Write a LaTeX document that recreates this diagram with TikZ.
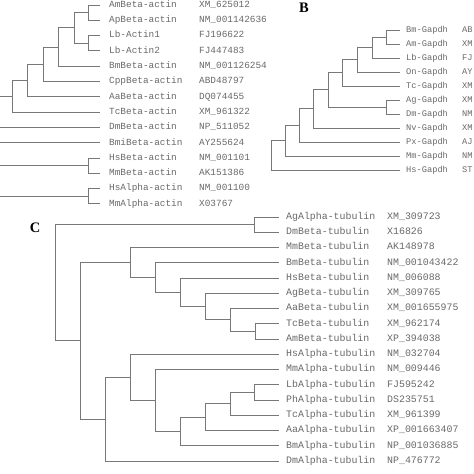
\documentclass[tikz,border=0pt]{standalone}
\usepackage{fontspec}
\setmonofont{Liberation Mono}
\newfontfamily\panelfont{Liberation Serif}
\usetikzlibrary{positioning}

\definecolor{branchgray}{RGB}{120,120,120}
\definecolor{textgray}{RGB}{105,105,105}

\begin{document}
\begin{tikzpicture}[
    x=1pt, y=-1pt,
    branch/.style={draw=branchgray, line width=1pt},
    leafA/.style={anchor=west, inner xsep=9pt, inner ysep=0pt, text height=1.55ex, text depth=0.45ex, text=textgray, font=\ttfamily\fontsize{9.4}{10}\selectfont},
    accA/.style={anchor=west, inner sep=0pt, text height=1.55ex, text depth=0.45ex, text=textgray, font=\ttfamily\fontsize{9.4}{10}\selectfont},
    leafB/.style={leafA, inner xsep=6pt, font=\ttfamily\fontsize{8.7}{10}\selectfont},
    accB/.style={accA, font=\ttfamily\fontsize{8.7}{10}\selectfont},
    leafC/.style={leafA, inner xsep=7pt, font=\ttfamily\fontsize{9.9}{11}\selectfont},
    accC/.style={accA, font=\ttfamily\fontsize{9.9}{11}\selectfont},
    panel/.style={font=\panelfont\bfseries\fontsize{14.5}{16}\selectfont, inner sep=0pt}
]
\useasboundingbox (0,0) rectangle (474,474);

% Panel A: actin leaves
\node[leafA] (a1) at (100,5) {AmBeta-actin};
\node[leafA] (a2) at (100,20.3) {ApBeta-actin};
\node[leafA] (a3) at (100,35.6) {Lb-Actin1};
\node[leafA] (a4) at (100,50.9) {Lb-Actin2};
\node[leafA] (a5) at (100,66.2) {BmBeta-actin};
\node[leafA] (a6) at (100,81.5) {CppBeta-actin};
\node[leafA] (a7) at (100,96.8) {AaBeta-actin};
\node[leafA] (a8) at (100,112.1) {TcBeta-actin};
\node[leafA] (a9) at (100,127.4) {DmBeta-actin};
\node[leafA] (a10) at (100,142.7) {BmiBeta-actin};
\node[leafA] (a11) at (100,158) {HsBeta-actin};
\node[leafA] (a12) at (100,173.3) {MmBeta-actin};
\node[leafA] (a13) at (100,188.6) {HsAlpha-actin};
\node[leafA] (a14) at (100,203.9) {MmAlpha-actin};

% Panel A: accession numbers
\node[accA] at (199,5) {XM\_625012};
\node[accA] at (199,20.3) {NM\_001142636};
\node[accA] at (199,35.6) {FJ196622};
\node[accA] at (199,50.9) {FJ447483};
\node[accA] at (199,66.2) {NM\_001126254};
\node[accA] at (199,81.5) {ABD48797};
\node[accA] at (199,96.8) {DQ074455};
\node[accA] at (199,112.1) {XM\_961322};
\node[accA] at (199,127.4) {NP\_511052};
\node[accA] at (199,142.7) {AY255624};
\node[accA] at (199,158) {NM\_001101};
\node[accA] at (199,173.3) {AK151386};
\node[accA] at (199,188.6) {NM\_001100};
\node[accA] at (199,203.9) {X03767};

% Panel A: inner nodes
\coordinate (ja1) at (88,12.65);
\coordinate (ja2) at (88,43.25);
\coordinate (ja3) at (74,27.95);
\coordinate (ja4) at (58,47.1);
\coordinate (ja5) at (43,64.3);
\coordinate (ja6) at (27,80.55);
\coordinate (ja7) at (12,96.3);
\coordinate (ja8) at (88,165.65);
\coordinate (ja9) at (88,196.25);

% Panel A: cut-off stems at the left edge
\coordinate (sa1) at (0,96.3);
\coordinate (sa2) at (0,127.4);
\coordinate (sa3) at (0,142.7);
\coordinate (sa4) at (0,165.65);
\coordinate (sa5) at (0,196.25);

% Panel A: branches
\draw[branch] (ja1) |- (a1);
\draw[branch] (ja1) |- (a2);
\draw[branch] (ja2) |- (a3);
\draw[branch] (ja2) |- (a4);
\draw[branch] (ja3) |- (ja1);
\draw[branch] (ja3) |- (ja2);
\draw[branch] (ja4) |- (ja3);
\draw[branch] (ja4) |- (a5);
\draw[branch] (ja5) |- (ja4);
\draw[branch] (ja5) |- (a6);
\draw[branch] (ja6) |- (ja5);
\draw[branch] (ja6) |- (a7);
\draw[branch] (ja7) |- (ja6);
\draw[branch] (ja7) |- (a8);
\draw[branch] (ja8) |- (a11);
\draw[branch] (ja8) |- (a12);
\draw[branch] (ja9) |- (a13);
\draw[branch] (ja9) |- (a14);
\draw[branch] (sa1) -- (ja7);
\draw[branch] (sa2) -- (a9);
\draw[branch] (sa3) -- (a10);
\draw[branch] (sa4) -- (ja8);
\draw[branch] (sa5) -- (ja9);

% Panel B: Gapdh leaves
\node[panel] (labB) at (304,8) {B};
\node[leafB] (b1) at (400,30) {Bm-Gapdh};
\node[leafB] (b2) at (400,44) {Am-Gapdh};
\node[leafB] (b3) at (400,58) {Lb-Gapdh};
\node[leafB] (b4) at (400,72) {On-Gapdh};
\node[leafB] (b5) at (400,86) {Tc-Gapdh};
\node[leafB] (b6) at (400,100) {Ag-Gapdh};
\node[leafB] (b7) at (400,114) {Dm-Gapdh};
\node[leafB] (b8) at (400,128) {Nv-Gapdh};
\node[leafB] (b9) at (400,142) {Px-Gapdh};
\node[leafB] (b10) at (400,156) {Mm-Gapdh};
\node[leafB] (b11) at (400,170) {Hs-Gapdh};

% Panel B: accession numbers (cut by the right edge)
\node[accB] at (462,30) {AB};
\node[accB] at (462,44) {XM};
\node[accB] at (462,58) {FJ};
\node[accB] at (462,72) {AY};
\node[accB] at (462,86) {XM};
\node[accB] at (462,100) {XM};
\node[accB] at (462,114) {NM};
\node[accB] at (462,128) {XM};
\node[accB] at (462,142) {AJ};
\node[accB] at (462,156) {NM};
\node[accB] at (462,170) {ST};

% Panel B: inner nodes
\coordinate (jb1) at (386,37);
\coordinate (jb2) at (372,47.5);
\coordinate (jb3) at (357,59.75);
\coordinate (jb4) at (342,72.9);
\coordinate (jb5) at (386,107);
\coordinate (jb6) at (328,89.95);
\coordinate (jb7) at (313,108.97);
\coordinate (jb8) at (299,125.5);
\coordinate (jb9) at (285,140.7);
\coordinate (jb10) at (271,155.4);

% Panel B: branches
\draw[branch] (jb1) |- (b1);
\draw[branch] (jb1) |- (b2);
\draw[branch] (jb2) |- (jb1);
\draw[branch] (jb2) |- (b3);
\draw[branch] (jb3) |- (jb2);
\draw[branch] (jb3) |- (b4);
\draw[branch] (jb4) |- (jb3);
\draw[branch] (jb4) |- (b5);
\draw[branch] (jb5) |- (b6);
\draw[branch] (jb5) |- (b7);
\draw[branch] (jb6) |- (jb4);
\draw[branch] (jb6) |- (jb5);
\draw[branch] (jb7) |- (jb6);
\draw[branch] (jb7) |- (b8);
\draw[branch] (jb8) |- (jb7);
\draw[branch] (jb8) |- (b9);
\draw[branch] (jb9) |- (jb8);
\draw[branch] (jb9) |- (b10);
\draw[branch] (jb10) |- (jb9);
\draw[branch] (jb10) |- (b11);

% Panel C: tubulin leaves
\node[panel] (labC) at (35,228) {C};
\node[leafC] (c1) at (279,217) {AgAlpha-tubulin};
\node[leafC] (c2) at (279,232.25) {DmBeta-tubulin};
\node[leafC] (c3) at (279,247.5) {MmBeta-tubulin};
\node[leafC] (c4) at (279,262.75) {BmBeta-tubulin};
\node[leafC] (c5) at (279,278) {HsBeta-tubulin};
\node[leafC] (c6) at (279,293.25) {AgBeta-tubulin};
\node[leafC] (c7) at (279,308.5) {AaBeta-tubulin};
\node[leafC] (c8) at (279,323.75) {TcBeta-tubulin};
\node[leafC] (c9) at (279,339) {AmBeta-tubulin};
\node[leafC] (c10) at (279,354.25) {HsAlpha-tubulin};
\node[leafC] (c11) at (279,369.5) {MmAlpha-tubulin};
\node[leafC] (c12) at (279,384.75) {LbAlpha-tubulin};
\node[leafC] (c13) at (279,400) {PhAlpha-tubulin};
\node[leafC] (c14) at (279,415.25) {TcAlpha-tubulin};
\node[leafC] (c15) at (279,430.5) {AaAlpha-tubulin};
\node[leafC] (c16) at (279,445.75) {BmAlpha-tubulin};
\node[leafC] (c17) at (279,461) {DmAlpha-tubulin};

% Panel C: accession numbers
\node[accC] at (387,217) {XM\_309723};
\node[accC] at (387,232.25) {X16826};
\node[accC] at (387,247.5) {AK148978};
\node[accC] at (387,262.75) {NM\_001043422};
\node[accC] at (387,278) {NM\_006088};
\node[accC] at (387,293.25) {XM\_309765};
\node[accC] at (387,308.5) {XM\_001655975};
\node[accC] at (387,323.75) {XM\_962174};
\node[accC] at (387,339) {XP\_394038};
\node[accC] at (387,354.25) {NM\_032704};
\node[accC] at (387,369.5) {NM\_009446};
\node[accC] at (387,384.75) {FJ595242};
\node[accC] at (387,400) {DS235751};
\node[accC] at (387,415.25) {XM\_961399};
\node[accC] at (387,430.5) {XP\_001663407};
\node[accC] at (387,445.75) {NP\_001036885};
\node[accC] at (387,461) {NP\_476772};

% Panel C: inner nodes
\coordinate (jc1) at (254,224.6);
\coordinate (jc2) at (255,331.4);
\coordinate (jc3) at (230,319.9);
\coordinate (jc4) at (205,306.6);
\coordinate (jc5) at (180,292.3);
\coordinate (jc6) at (155,277.5);
\coordinate (jc7) at (130,262.5);
\coordinate (jc8) at (254,392.4);
\coordinate (jc9) at (230,403.8);
\coordinate (jc10) at (205,417.2);
\coordinate (jc11) at (180,431.5);
\coordinate (jc12) at (155,400.5);
\coordinate (jc13) at (130,377.4);
\coordinate (jc14) at (105,419.2);
\coordinate (jc15) at (80,340.9);
\coordinate (jc16) at (55,282.7);

% Panel C: branches
\draw[branch] (jc1) |- (c1);
\draw[branch] (jc1) |- (c2);
\draw[branch] (jc2) |- (c8);
\draw[branch] (jc2) |- (c9);
\draw[branch] (jc3) |- (c7);
\draw[branch] (jc3) |- (jc2);
\draw[branch] (jc4) |- (c6);
\draw[branch] (jc4) |- (jc3);
\draw[branch] (jc5) |- (c5);
\draw[branch] (jc5) |- (jc4);
\draw[branch] (jc6) |- (c4);
\draw[branch] (jc6) |- (jc5);
\draw[branch] (jc7) |- (c3);
\draw[branch] (jc7) |- (jc6);
\draw[branch] (jc8) |- (c12);
\draw[branch] (jc8) |- (c13);
\draw[branch] (jc9) |- (jc8);
\draw[branch] (jc9) |- (c14);
\draw[branch] (jc10) |- (jc9);
\draw[branch] (jc10) |- (c15);
\draw[branch] (jc11) |- (jc10);
\draw[branch] (jc11) |- (c16);
\draw[branch] (jc12) |- (c11);
\draw[branch] (jc12) |- (jc11);
\draw[branch] (jc13) |- (c10);
\draw[branch] (jc13) |- (jc12);
\draw[branch] (jc14) |- (jc13);
\draw[branch] (jc14) |- (c17);
\draw[branch] (jc15) |- (jc7);
\draw[branch] (jc15) |- (jc14);
\draw[branch] (jc16) |- (jc1);
\draw[branch] (jc16) |- (jc15);

\end{tikzpicture}
\end{document}
